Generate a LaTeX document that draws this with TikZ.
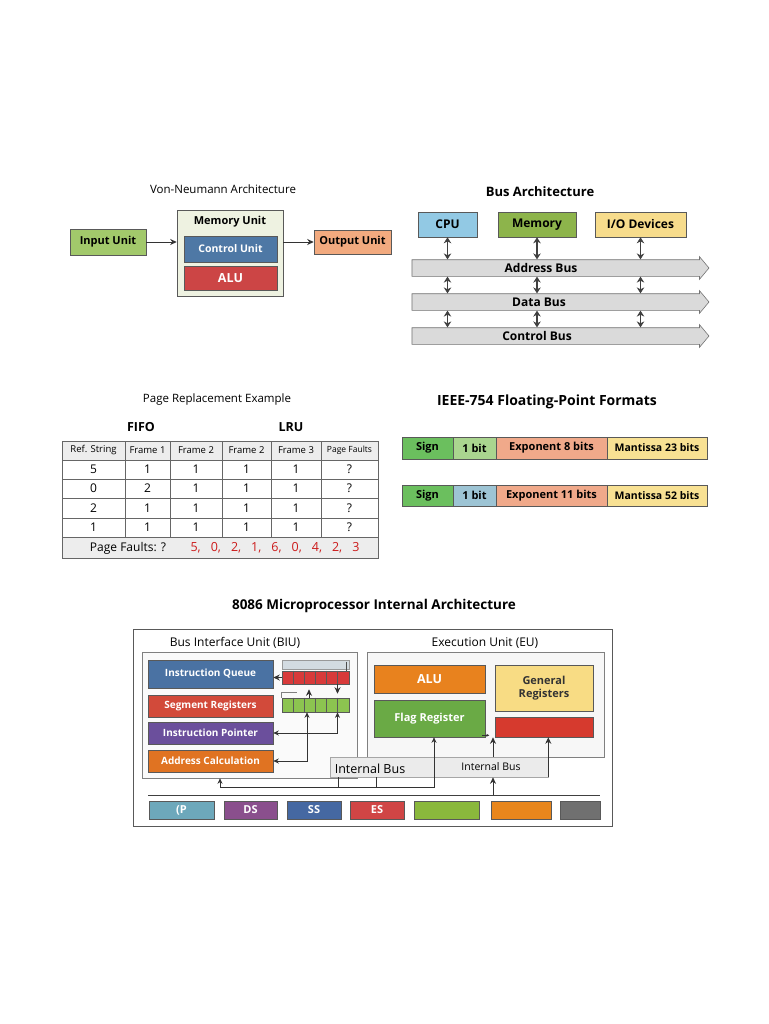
\documentclass[tikz,border=0pt]{standalone}
\usepackage{fontspec}
\setmainfont{Open Sans}
\usetikzlibrary{arrows.meta,shapes.arrows}

\definecolor{inputgreen}{HTML}{A2C96B}
\definecolor{memfill}{HTML}{EEF2E1}
\definecolor{ctrlblue}{HTML}{4E78A5}
\definecolor{alured}{HTML}{CC4545}
\definecolor{outorange}{HTML}{F2AA7F}
\definecolor{cpublue}{HTML}{92C9E4}
\definecolor{memgreen}{HTML}{8DB44B}
\definecolor{ioyellow}{HTML}{F7DC8C}
\definecolor{busgray}{HTML}{DADADA}
\definecolor{hdrgray}{HTML}{EDEDED}
\definecolor{faultred}{HTML}{CC1A1A}
\definecolor{signgreen}{HTML}{6BBF5E}
\definecolor{bitgreen}{HTML}{AAD58F}
\definecolor{bitblue}{HTML}{9DC4D4}
\definecolor{expsalmon}{HTML}{F0A98A}
\definecolor{mantyellow}{HTML}{F8E193}
\definecolor{iqblue}{HTML}{4A72A3}
\definecolor{segred}{HTML}{D24A3A}
\definecolor{ippurple}{HTML}{6B4F9C}
\definecolor{acorange}{HTML}{E07322}
\definecolor{qgray}{HTML}{D3DBE1}
\definecolor{qred}{HTML}{D83A3A}
\definecolor{qgreen}{HTML}{8CC450}
\definecolor{euorange}{HTML}{E8821E}
\definecolor{genyellow}{HTML}{F8DC84}
\definecolor{flaggreen}{HTML}{6AAA45}
\definecolor{eured}{HTML}{D63A2E}
\definecolor{cpteal}{HTML}{6DA8BB}
\definecolor{dspurple}{HTML}{8A4F8D}
\definecolor{ssblue}{HTML}{4568A2}
\definecolor{esred}{HTML}{D04545}
\definecolor{rgreen}{HTML}{8AB83C}
\definecolor{rorange}{HTML}{E8861C}
\definecolor{rgray}{HTML}{707070}

\begin{document}
\begin{tikzpicture}[x=1pt,y=-1pt,
  box/.style={draw=black!65, line width=0.6pt, inner sep=1pt, align=center},
  wbox/.style={box, text=white, font=\fontsize{10}{12}\selectfont\bfseries},
  bbox/.style={box, font=\fontsize{11}{13}\selectfont\bfseries},
  cell/.style={box, minimum height=22, font=\fontsize{11}{13}\selectfont\bfseries},
  ttl/.style={font=\fontsize{13.5}{16}\selectfont\bfseries},
  sub/.style={font=\fontsize{11.5}{14}\selectfont},
  grid/.style={draw=black!60, line width=0.5pt},
  arr/.style={-{Stealth[length=6.5pt,width=6pt]}, line width=0.9pt, black!80},
  arrs/.style={{Stealth[length=5.5pt,width=5pt]}-{Stealth[length=5.5pt,width=5pt]}, line width=0.8pt, black!80},
  darr/.style={{Stealth[length=6pt,width=7.5pt]}-{Stealth[length=6pt,width=7.5pt]}, line width=1.7pt, black!75},
  bus/.style={single arrow, draw=black!55, fill=busgray, line width=0.6pt, single arrow head extend=3pt,
    single arrow tip angle=100, inner xsep=0pt, inner ysep=8pt, minimum height=297},
  reg/.style={box, minimum height=18, text=white, font=\fontsize{11}{13}\selectfont\bfseries}]

\fill[white] (0,0) rectangle (768,1024);
\useasboundingbox (0,0) rectangle (768,1024);

\node[sub] (vnt) at (223,189) {Von-Neumann Architecture};
\node[bbox, fill=inputgreen, minimum width=76, minimum height=26] (inp) at (108,242) {Input Unit};
\node[box, fill=memfill, minimum width=106, minimum height=86] (mem) at (230,253) {};
\node[font=\fontsize{11}{13}\selectfont\bfseries] (memlbl) at (230,222) {Memory Unit};
\node[wbox, fill=ctrlblue, minimum width=93, minimum height=26, font=\fontsize{10.5}{12}\selectfont\bfseries] (cu) at (230.5,249) {Control Unit};
\node[wbox, fill=alured, minimum width=93, minimum height=24, font=\fontsize{12.5}{14}\selectfont\bfseries] (alu) at (230.5,278) {ALU};
\node[bbox, fill=outorange, minimum width=77, minimum height=24] (outu) at (352.5,242) {Output Unit};
\draw[arr] (inp.east) -- (inp.east -| mem.west);
\draw[arr] (mem.east |- outu.west) -- (outu.west);

\node[ttl, font=\fontsize{13}{15}\selectfont\bfseries] (bt) at (540,192) {Bus Architecture};
\node[bbox, fill=cpublue, minimum width=59, minimum height=25, font=\fontsize{12}{14}\selectfont\bfseries] (cpu) at (447.5,224.5) {CPU};
\node[bbox, fill=memgreen, minimum width=78, minimum height=25, font=\fontsize{12}{14}\selectfont\bfseries] (memb) at (537,224.5) {Memory};
\node[bbox, fill=ioyellow, minimum width=91, minimum height=25, font=\fontsize{12}{14}\selectfont\bfseries] (io) at (640.5,224.5) {I/O Devices};
\node[bus] (addr) at (557,268) {};
\node[bus] (data) at (557,302) {};
\node[bus] (ctrl) at (557,336) {};
\node[font=\fontsize{12}{14}\selectfont\bfseries] (addrlbl) at (541,268) {Address Bus};
\node[font=\fontsize{12}{14}\selectfont\bfseries] (datalbl) at (539,302) {Data Bus};
\node[font=\fontsize{12}{14}\selectfont\bfseries] (ctrllbl) at (537,336) {Control Bus};
\foreach \b in {cpu,memb,io} {
  \draw[darr] (\b.south) -- (\b.south |- addr.90);
  \draw[darr] (\b.south |- addr.270) -- (\b.south |- data.90);
  \draw[darr] (\b.south |- data.270) -- (\b.south |- ctrl.90);
}

\node[sub] (prt) at (217,400) {Page Replacement Example};
\node[font=\fontsize{12.5}{14}\selectfont\bfseries] (fifo) at (141,427) {FIFO};
\node[font=\fontsize{12.5}{14}\selectfont\bfseries] (lru) at (291,427) {LRU};
\draw[grid, fill=hdrgray] (62,441) rectangle (378,460);
\draw[grid, fill=white] (62,460) rectangle (378,537);
\draw[grid, fill=hdrgray] (62,537) rectangle (378,558);
\foreach \y in {479,498,518} \draw[grid] (62,\y) -- (378,\y);
\foreach \x in {125,170,222,271,321} \draw[grid] (\x,441) -- (\x,537);
\foreach \x/\t [count=\c] in {93.5/Ref. String,147.5/Frame 1,196/Frame 2,246.5/Frame 2,296/Frame 3}
  \node[font=\fontsize{9.5}{11}\selectfont] (h\c) at (\x,450.5) {\t};
\node[font=\fontsize{8.5}{10}\selectfont] (h6) at (349.5,450.5) {Page Faults};
\foreach \y/\a/\b [count=\r] in {469.5/5/1,488.5/0/2,508/2/1,527.5/1/1} {
  \node[font=\fontsize{12}{14}\selectfont] (r\r c1) at (93.5,\y) {\a};
  \node[font=\fontsize{12}{14}\selectfont] (r\r c2) at (147.5,\y) {\b};
  \node[font=\fontsize{12}{14}\selectfont] (r\r c3) at (196,\y) {1};
  \node[font=\fontsize{12}{14}\selectfont] (r\r c4) at (246.5,\y) {1};
  \node[font=\fontsize{12}{14}\selectfont] (r\r c5) at (296,\y) {1};
  \node[font=\fontsize{12}{14}\selectfont] (r\r c6) at (349.5,\y) {?};
}
\node[font=\fontsize{12}{14}\selectfont] (pf) at (128,548) {Page Faults: ?};
\node[font=\fontsize{12.5}{14}\selectfont, text=faultred] (seq) at (275,548)
  {5,\hspace{10pt}0,\hspace{10pt}2,\hspace{10pt}1,\hspace{10pt}6,\hspace{10pt}0,\hspace{10pt}4,\hspace{10pt}2,\hspace{10pt}3};

\node[ttl, font=\fontsize{14}{16}\selectfont\bfseries] (it) at (547,402) {IEEE-754 Floating-Point Formats};
\node[cell, fill=signgreen, minimum width=51] (s1) at (427.5,448) {Sign};
\node[cell, fill=bitgreen, minimum width=43] (b1) at (474.5,448) {1 bit};
\node[cell, fill=expsalmon, minimum width=111] (e1) at (551.5,448) {Exponent 8 bits};
\node[cell, fill=mantyellow, minimum width=100, font=\fontsize{10.5}{12}\selectfont\bfseries] (m1) at (657,448) {Mantissa 23 bits};
\node[cell, fill=signgreen, minimum width=51, minimum height=21] (s2) at (427.5,495.5) {Sign};
\node[cell, fill=bitblue, minimum width=43, minimum height=21] (b2) at (474.5,495.5) {1 bit};
\node[cell, fill=expsalmon, minimum width=111, minimum height=21] (e2) at (551.5,495.5) {Exponent 11 bits};
\node[cell, fill=mantyellow, minimum width=100, minimum height=21, font=\fontsize{10.5}{12}\selectfont\bfseries] (m2) at (657,495.5) {Mantissa 52 bits};

\node[ttl] (mt) at (374,606) {8086 Microprocessor Internal Architecture};
\node[box, minimum width=479, minimum height=197] (chip) at (372.5,727.5) {};
\node[box, draw=black!50, fill=black!2, minimum width=215, minimum height=126] (biu) at (249.5,715) {};
\node[sub, font=\fontsize{12}{14}\selectfont] (biut) at (235,643) {Bus Interface Unit (BIU)};
\node[box, draw=black!50, fill=black!3, minimum width=237, minimum height=105] (eu) at (485.5,704.5) {};
\node[sub, font=\fontsize{12}{14}\selectfont] (eut) at (485,643) {Execution Unit (EU)};
\node[wbox, fill=iqblue, minimum width=125, minimum height=28] (iq) at (210.5,674) {Instruction Queue};
\node[wbox, fill=segred, minimum width=125, minimum height=22] (sr) at (210.5,706) {Segment Registers};
\node[wbox, fill=ippurple, minimum width=125, minimum height=22] (ip) at (210.5,733) {Instruction Pointer};
\node[wbox, fill=acorange, minimum width=125, minimum height=22] (ac) at (210.5,761) {Address Calculation};
\node[box, draw=black!40, fill=qgray, minimum width=67, minimum height=9] (qbar) at (315.5,664.5) {};
\node[box, fill=qred, minimum width=67, minimum height=13] (qcells) at (315.5,677.5) {};
\node[box, fill=qgreen, minimum width=67, minimum height=14] (scells) at (315.5,705) {};
\foreach \i in {1,...,5} {
  \draw[black!65, line width=0.5pt] ([xshift=\i*11.17pt]qcells.north west) -- ([xshift=\i*11.17pt]qcells.south west);
  \draw[black!65, line width=0.5pt] ([xshift=\i*11.17pt]scells.north west) -- ([xshift=\i*11.17pt]scells.south west);
}
\draw[black!70, line width=0.5pt] ([xshift=-3pt,yshift=-2pt]qbar.north east) -- ([xshift=-3pt,yshift=-2pt]qbar.south east);
\draw[black!50, line width=0.6pt] (scells.north west) -- ++(0,-5) -- ++(15,0);
\draw[arr] (qcells.west) -- (qcells.west -| iq.east);
\draw[arr] ([xshift=-6.5pt]scells.north) -- ([xshift=-6.5pt,yshift=-5pt]qcells.south);
\draw[arr] ([xshift=22pt]qcells.south) -- ([xshift=22pt,yshift=4pt]scells.north);
\draw[arrs] (ip.east) -| ([xshift=22pt]scells.south);
\draw[arrs] (ac.east) -| ([xshift=-8.5pt]scells.south);

\node[wbox, fill=euorange, minimum width=111, minimum height=28, font=\fontsize{12.5}{14}\selectfont\bfseries] (ealu) at (429.5,679) {ALU};
\node[box, fill=genyellow, minimum width=98, minimum height=46, text=black!80, font=\fontsize{11}{13}\selectfont\bfseries] (genr) at (544,688) {General\\Registers};
\node[wbox, fill=flaggreen, minimum width=111, minimum height=37, font=\fontsize{11}{13}\selectfont\bfseries] (flag) at (429.5,718.5) {Flag Register};
\node[box, fill=eured, minimum width=98, minimum height=20] (ered) at (544,727) {};
\draw[-{Stealth[length=3pt,width=3pt]}, black!80, line width=0.6pt] ([xshift=-3pt,yshift=2pt]flag.south east) -- ([xshift=4pt,yshift=2pt]flag.south east);

\node[box, draw=black!35, fill=black!8, minimum width=218, minimum height=20] (ibus) at (439,767) {};
\node[font=\fontsize{12.5}{14}\selectfont] (ib1) at (370,769) {Internal Bus};
\node[font=\fontsize{10.5}{12}\selectfont] (ib2) at (491,767) {Internal Bus};
\coordinate (jl) at (434,787);
\draw[arrs] ([xshift=-29.5pt]biu.south) |- (jl) -- (jl |- flag.south);
\draw[black!80, line width=0.8pt] ([xshift=9pt]ibus.south west) -- ([xshift=9pt]ibus.south west |- jl);
\draw[black!80, line width=0.8pt] ([xshift=47pt]ibus.south west) -- ([xshift=47pt]ibus.south west |- jl);
\coordinate (sepl) at (148,795);
\coordinate (sepr) at (600,795);
\draw[black!75, line width=0.8pt] (sepl) -- (sepr);
\coordinate (busin) at (493,795);
\draw[arr] (busin) -- (busin |- ibus.south);
\draw[arr] (busin |- ibus.north) -- (busin |- ered.south);
\draw[arr] (ibus.south east) -- (ibus.south east |- ered.south);

\node[reg, fill=cpteal, minimum width=65] (cs) at (181.5,810) {(P};
\node[reg, fill=dspurple, minimum width=53] (ds) at (250.5,810) {DS};
\node[reg, fill=ssblue, minimum width=54] (ss) at (314,810) {SS};
\node[reg, fill=esred, minimum width=54] (es) at (377,810) {ES};
\node[reg, fill=rgreen, minimum width=65] (rg) at (446.5,810) {};
\node[reg, fill=rorange, minimum width=60] (ro) at (521,810) {};
\node[reg, fill=rgray, minimum width=40] (rk) at (580,810) {};
\end{tikzpicture}
\end{document}
